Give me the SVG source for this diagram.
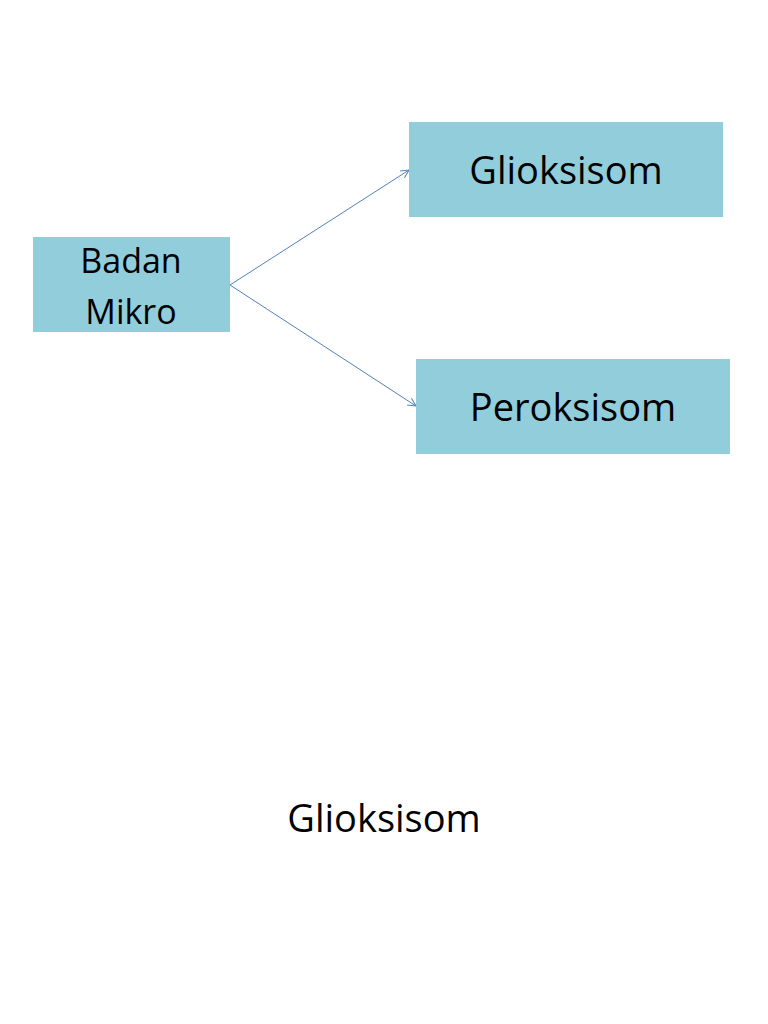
<svg xmlns="http://www.w3.org/2000/svg" width="768" height="1024" viewBox="0 0 768 1024">
<style>
.box{fill:#92CDDC}
.t{font-family:"Open Sans","Liberation Sans",sans-serif;fill:#000;text-anchor:middle}
.c{stroke:#4F81BD;stroke-width:1;fill:none}
</style>
<defs><marker id="a" markerWidth="10" markerHeight="10" refX="9" refY="5" orient="auto" markerUnits="userSpaceOnUse"><path d="M1,1 L9,5 L1,9" fill="none" stroke="#4F81BD"/></marker></defs>
<rect width="768" height="1024" fill="#fff"/>
<g id="connectors">
<line class="c" x1="230" y1="285" x2="409" y2="170" marker-end="url(#a)"/>
<line class="c" x1="230" y1="285" x2="416" y2="406" marker-end="url(#a)"/>
</g>
<g id="badan"><rect class="box" x="33" y="237" width="197" height="95"/>
<text class="t" x="131" y="273" font-size="34">Badan</text><text class="t" x="131" y="324" font-size="34">Mikro</text></g>
<g id="glioksisom"><rect class="box" x="409" y="122" width="314" height="95"/>
<text class="t" x="566" y="184" font-size="38">Glioksisom</text></g>
<g id="peroksisom"><rect class="box" x="416" y="359" width="314" height="95"/>
<text class="t" x="573" y="421" font-size="38">Peroksisom</text></g>
<text class="t" x="384" y="832" font-size="38">Glioksisom</text>
</svg>
